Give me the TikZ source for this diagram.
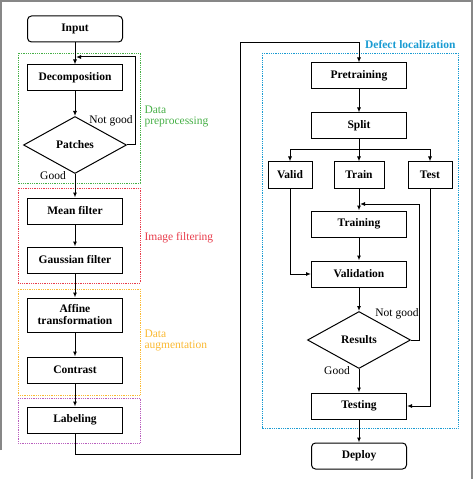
\documentclass[tikz,border=0pt]{standalone}
\usepackage{fontspec}
\setmainfont{Liberation Serif}
\usetikzlibrary{shapes.geometric,arrows.meta}
\definecolor{prepgreen}{RGB}{70,175,70}
\definecolor{filtred}{RGB}{232,60,75}
\definecolor{augorange}{RGB}{250,185,50}
\definecolor{labpurple}{RGB}{185,95,190}
\definecolor{locblue}{RGB}{25,155,210}
\definecolor{framegray}{RGB}{135,135,135}
\tikzset{
  stepbox/.style={draw, line width=1pt, minimum width=95pt, minimum height=26pt,
    inner sep=1pt, align=center, font=\bfseries\fontsize{11.5}{12.5}\selectfont},
  endbox/.style={stepbox, rounded corners=4pt},
  smallbox/.style={stepbox, minimum width=44pt},
  check/.style={draw, diamond, line width=1pt, aspect=1.8, minimum width=103pt,
    minimum height=57pt, inner sep=0pt, font=\bfseries\fontsize{11.5}{12.5}\selectfont},
  arr/.style={line width=1pt, -{Latex[length=5pt,width=4pt]}},
  group/.style={densely dotted, line width=0.8pt},
  grouptext/.style={font=\fontsize{11.5}{13}\selectfont, align=left, anchor=west},
  edgetext/.style={font=\fontsize{11.5}{12.5}\selectfont}
}
\begin{document}
\begin{tikzpicture}[x=1pt,y=-1pt]
\useasboundingbox (0,0) rectangle (474,486);
% frame of the scanned figure
\draw[framegray, line width=1.6pt] (1,450) -- (1,1) -- (472,1) -- (472,479);

% dotted groups
\draw[group, prepgreen] (18,53) rectangle (140,183);
\draw[group, filtred] (18,188) rectangle (140,283);
\draw[group, augorange] (18,289) rectangle (140,395);
\draw[group, labpurple] (18,398) rectangle (140,443);
\draw[group, locblue] (262,53) rectangle (458,428);

\node[grouptext, prepgreen] (prepname) at (141,116) {Data\\[-2pt]preprocessing};
\node[grouptext, filtred] (filtname) at (141,238) {Image filtering};
\node[grouptext, augorange] (augname) at (141,340) {Data\\[-2pt]augmentation};
\node[font=\bfseries\fontsize{11.5}{12.5}\selectfont, locblue, anchor=east] (locname) at (459,45) {Defect localization};

% left column
\node[endbox] (input) at (75,29) {Input};
\node[stepbox] (decomp) at (75,78) {Decomposition};
\node[check] (patches) at (75,145) {Patches};
\node[stepbox] (mean) at (75,211) {Mean filter};
\node[stepbox] (gauss) at (75,260) {Gaussian filter};
\node[stepbox, minimum height=34pt, font=\bfseries\fontsize{11.5}{12}\selectfont] (affine) at (75,315) {Affine\\transformation};
\node[stepbox] (contrast) at (75,370) {Contrast};
\node[stepbox] (labeling) at (75,420) {Labeling};

% right column
\node[stepbox] (pretrain) at (359,76) {Pretraining};
\node[stepbox] (split) at (359,126) {Split};
\node[smallbox] (valid) at (290,175) {Valid};
\node[stepbox, minimum width=50pt] (train) at (359,175) {Train};
\node[smallbox] (test) at (430,175) {Test};
\node[stepbox] (training) at (359,224) {Training};
\node[stepbox] (validation) at (359,274) {Validation};
\node[check] (results) at (359,340) {Results};
\node[stepbox] (testing) at (359,406) {Testing};
\node[endbox] (deploy) at (359,456) {Deploy};

% connectors, left
\coordinate (decompin) at (76,57);
\draw[arr] (input) -- (decomp);
\draw[arr] (decomp) -- (patches);
\draw[arr] (patches.east) -- ++(8,0) |- (decompin);
\draw[arr] (patches.south) -- (mean);
\draw[arr] (mean) -- (gauss);
\draw[arr] (gauss) -- (affine);
\draw[arr] (affine) -- (contrast);
\draw[arr] (contrast) -- (labeling);
\draw[arr] (labeling.south) |- (240,454) -- (240,43) -| (pretrain.north);
\node[edgetext] (notgood1) at (111,121) {Not good};
\node[edgetext] (good1) at (53,176) {Good};

% connectors, right
\coordinate (branch) at (359,150);
\coordinate (trainingin) at (360,204);
\draw[arr] (pretrain) -- (split);
\draw[arr] (split) -- (train);
\draw[arr] (branch) -| (valid.north);
\draw[arr] (branch) -| (test.north);
\draw[arr] (train) -- (training);
\draw[arr] (training) -- (validation);
\draw[arr] (valid.south) |- (validation.west);
\draw[arr] (validation) -- (results.north);
\draw[arr] (results.east) -- ++(8,0) |- (trainingin);
\draw[arr] (results.south) -- (testing);
\draw[arr] (test.south) |- (testing.east);
\draw[arr] (testing) -- (deploy);
\node[edgetext] (notgood2) at (397,314) {Not good};
\node[edgetext] (good2) at (337,371) {Good};
\end{tikzpicture}
\end{document}
